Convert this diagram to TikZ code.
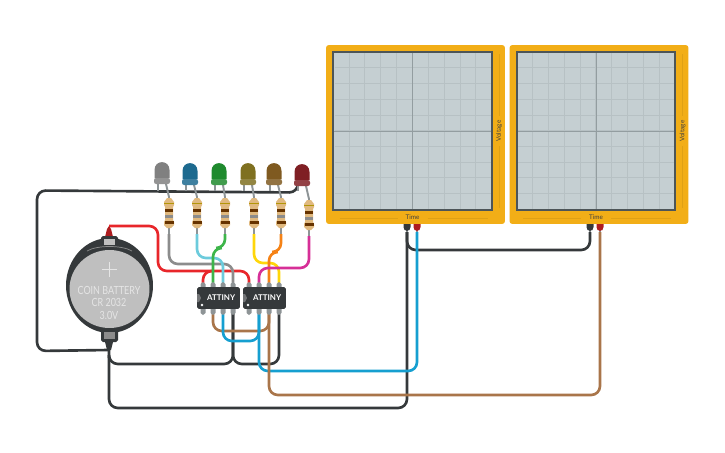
\documentclass[tikz,border=0pt]{standalone}
\usepackage{fontspec}
\setmainfont{Lato}
\usetikzlibrary{calc,shapes.geometric}

\definecolor{wred}{HTML}{E8262A}
\definecolor{wgrey}{HTML}{8C8C8C}
\definecolor{wcyan}{HTML}{6CCBDC}
\definecolor{wgreen}{HTML}{3DB54A}
\definecolor{wyellow}{HTML}{FFD60A}
\definecolor{worange}{HTML}{F58216}
\definecolor{wpink}{HTML}{D62F97}
\definecolor{wblack}{HTML}{35393B}
\definecolor{wblue}{HTML}{169FD0}
\definecolor{wbrown}{HTML}{A9754A}
\definecolor{scopeorange}{HTML}{F2AE17}
\definecolor{scopeline}{HTML}{DFA115}
\definecolor{screen}{HTML}{C5CFD2}
\definecolor{screenline}{HTML}{B7C1C4}
\definecolor{screenaxis}{HTML}{939DA0}
\definecolor{screenedge}{HTML}{4D5558}
\definecolor{tan}{HTML}{E0B97F}
\definecolor{leg}{HTML}{8E9496}

\tikzset{
  wire/.style={line width=1.5pt,rounded corners=5pt},
  legline/.style={leg,line width=1.1pt},
  chip/.style={fill=wblack,rounded corners=1pt,minimum width=0.86cm,minimum height=0.44cm,
    inner sep=0pt,text=white,font=\fontsize{4.5}{6}\selectfont\bfseries},
  scopebox/.style={fill=scopeorange,rounded corners=1.6pt,minimum width=3.58cm,minimum height=3.58cm},
  screenbox/.style={fill=screen,minimum width=3.16cm,minimum height=3.14cm,inner sep=0pt},
  scopetext/.style={text=black!75,inner sep=0pt,font=\fontsize{3.6}{4}\selectfont},
  batttext/.style={text=white!90!black,inner sep=0pt,xscale=0.8,font=\fontsize{6.4}{7}\selectfont},
}

\begin{document}
\begin{tikzpicture}[x=0.02cm,y=-0.02cm]
    \useasboundingbox (0,0) rectangle (725,453);
    % pins of the two chips
    \foreach \n/\x in {a1/203,a2/213,a3/223,a4/233,b1/249,b2/259,b3/269,b4/279} {
      \coordinate (\n t) at (\x,284);
      \coordinate (\n b) at (\x,313);
    }
    % probes
    \coordinate (pa) at (407,232);
    \coordinate (qa) at (417,232);
    \coordinate (pb) at (590,232);
    \coordinate (qb) at (600,232);
    % battery ends
    \coordinate (bplus) at (109,226);
    \coordinate (bminus) at (109,350);
    \coordinate (bjoin) at (109,358);
    % resistor ends
    \foreach \n/\x/\y in {1/169/0,2/197/0,3/225/0,4/254/0,5/281/0,6/309/2} {
      \coordinate (r\n t) at (\x,197+\y);
      \coordinate (r\n b) at (\x,234+\y);
    }

    % wires
    \draw[wire,wblack] (bminus) -- (37,351) -- (37,190.5) -- (298,192.5) -- (298,184);
    \draw[wire,wblack] (bminus) -- (109,408) -- (407,408) -- (pa);
    \draw[wire,wblack] (pa) -- (407,250) -- (590,250) -- (pb);
    \draw[wire,wblack] (bjoin) -- (109,364) -- (233,364) -- (a4b);
    \draw[wire,wblack] (a4b) -- (233,364) -- (279,364) -- (b4b);
    \draw[wire,wred] (bplus) -- (158,226) -- (158,271) -- (249,271) -- (b1t);
    \draw[wire,wred] (a1t) -- (203,271) -- (213,271);
    \draw[wire,wgrey] (r1b) -- (169,264) -- (233,264) -- (a4t);
    \draw[wire,wcyan] (r2b) -- (197,258) -- (223,258) -- (a3t);
    \draw[wire,wgreen] (r3b) -- (225,248) -- (213,248) -- (a2t);
    \draw[wire,wyellow] (r4b) -- (254,263) -- (279,263) -- (b4t);
    \draw[wire,worange] (r5b) -- (281,252) -- (269,252) -- (b3t);
    \draw[wire,wpink] (r6b) -- (309,268) -- (259,268) -- (b2t);
    \draw[wire,wbrown] (a2b) -- (213,331) -- (269,331) -- (b3b);
    \draw[wire,wblue] (a3b) -- (223,341) -- (259,341) -- (b2b);
    \draw[wire,wblue] (b2b) -- (259,371) -- (417,371) -- (qa);
    \draw[wire,wbrown] (b3b) -- (269,395) -- (600,395) -- (qb);

    % probes tips
    \foreach \n/\c in {pa/wblack,qa/wred!75!black,pb/wblack,qb/wred!75!black} {
      \draw[legline] (\n) -- ++(0,-3);
      \fill[\c,rounded corners=1pt] ($(\n)+(-3.5,-3)$) -- ++(0,-7) -- ++(7,0) -- ++(0,7) -- ++(-2,2) -- ++(-3,0) -- cycle;
    }

    % scopes
    \foreach \n/\x in {a/415.5,b/599} {
      \node[scopebox] (scope\n) at (\x,134.5) {};
      \node[screenbox] (screen\n) at (\x-3,131) {};
      \foreach \k in {1,...,9}
        \draw[screenline,line width=0.5pt] ($(screen\n.west)+(\k*15.85,-78)$) -- ++(0,156);
      \foreach \k in {1,...,9}
        \draw[screenline,line width=0.5pt] ($(screen\n.north)+(-78,\k*15.7)$) -- ++(156,0);
      \draw[screenaxis,line width=0.5pt] (screen\n.north) -- (screen\n.south);
      \draw[screenaxis,line width=0.5pt] (screen\n.west) -- (screen\n.east);
      \draw[screenedge,line width=1.1pt] (screen\n.south west) rectangle (screen\n.north east);
      \node[scopetext] (time\n) at (\x-3,217.5) {Time};
      \node[scopetext,rotate=90] (volt\n) at (\x+83.5,131) {Voltage};
      \draw[scopeline,line width=0.4pt] (\x-76,218) -- (\x-18,218);
      \draw[scopeline,line width=0.4pt] (\x+12,218) -- (\x+72,218);
      \draw[scopeline,line width=0.4pt] (\x+83.5,54) -- (\x+83.5,116);
      \draw[scopeline,line width=0.4pt] (\x+83.5,146) -- (\x+83.5,208);
    }

    % battery
    \fill[wred!75!black] (105,237) -- (107,229) -- (109,226) -- (111,229) -- (113,237) -- cycle;
    \fill[wblack] (105,342) -- (113,342) -- (111,350) -- (107,350) -- cycle;
    \node[ellipse,fill=wblack,minimum width=1.74cm,minimum height=1.9cm,inner sep=0pt] (batt) at (109.5,285.5) {};
    \fill[wblack,rounded corners=1pt] (101,236) rectangle (118,250);
    \fill[wblack,rounded corners=1pt] (101,325) rectangle (118,342);
    \fill[black!25] (104,239) rectangle (115,245);
    \fill[black!45] (104,332) rectangle (115,339);
    \node[ellipse,fill=black!25,minimum width=1.6cm,minimum height=1.56cm,inner sep=0pt] (cell) at (109.5,289) {};
    \draw[black!45,line width=0.4pt] (87,251) .. controls (97,245) and (122,245) .. (132,251);
    \draw[white!90!black,line width=0.3pt] (102,269) -- (117,269) (109.5,262) -- (109.5,277);
    \node[batttext] (battname) at (109,290) {COIN BATTERY};
    \node[batttext] (batttype) at (109,302.5) {CR 2032};
    \node[batttext] (battvolt) at (109,315) {3.0V};

    % chips
    \foreach \n in {a1,a2,a3,a4,b1,b2,b3,b4} {
      \fill[leg] ($(\n t)+(-2.5,4)$) -- ++(0,-4) -- ++(2.5,-2) -- ++(2.5,2) -- ++(0,4) -- cycle;
      \fill[leg] ($(\n b)+(-2.5,-5)$) -- ++(0,5) -- ++(2.5,2) -- ++(2.5,-2) -- ++(0,-5) -- cycle;
    }
    \foreach \n/\x in {a/218.5,b/264.5} {
      \node[chip] (chip\n) at (\x,298) {\hspace{3pt}ATTINY};
      \fill[white] (\x-16.5,305) circle (1.3);
      \fill[white!30!wblack] (\x-21.5,294) -- ++(2,0) -- ++(2,4) -- ++(-2,4) -- ++(-2,0) -- cycle;
    }

    % leds
    \foreach \n/\x/\c/\y in {1/162/808080/0,2/190/1D6A8F/1,3/219/1F8A2E/1,4/248/7F7020/1,5/274/7F5A20/1,6/302/7F1F24/2} {
      \definecolor{ledcol}{HTML}{\c}
      \draw[legline] (\x-4,184+\y) -- (\x-4,191);
      \draw[legline] (\x+4,184+\y) -- (r\n t);
      \fill[ledcol] (\x-7.5,178+\y) -- (\x-7.5,170+\y) .. controls (\x-7.5,159.5+\y) and (\x+7.5,159.5+\y) .. (\x+7.5,170+\y) -- (\x+7.5,178+\y) -- cycle;
      \fill[ledcol!85!white,rounded corners=1.2pt] (\x-8,178+\y) rectangle (\x+8,184+\y);
    }

    % resistors
    \foreach \n in {1,...,6} {
      \draw[legline] (r\n t) -- (r\n b);
      \begin{scope}[shift={($(r\n t)+(0,15)$)}]
        \fill[tan] (-2,-14) -- (2,-14) -- (5,-10) -- (5,-7) -- (4,-5) -- (4,8) -- (5,10) -- (5,13) -- (2,16) -- (-2,16) -- (-5,13) -- (-5,10) -- (-4,8) -- (-4,-5) -- (-5,-7) -- (-5,-10) -- cycle;
        \fill[wyellow!70!black] (-5,-9) rectangle (5,-8);
        \fill[black!60!orange] (-4,-3) rectangle (4,0);
        \fill[black!45] (-4,3) rectangle (4,6);
        \fill[black!60!orange] (-4,9) rectangle (5,12);
      \end{scope}
    }
\end{tikzpicture}
\end{document}
